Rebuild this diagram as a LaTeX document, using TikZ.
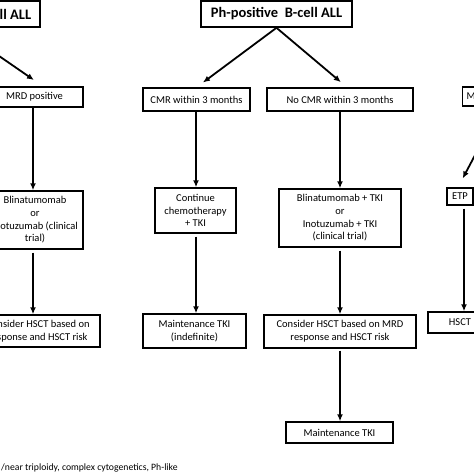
\documentclass[tikz,border=0pt]{standalone}
\usepackage{fontspec}
\setmainfont{Carlito}
\usetikzlibrary{arrows.meta,calc}
\begin{document}
\begin{tikzpicture}[x=1pt,y=-1pt,
 box/.style={draw, line width=1.4pt, rectangle, inner sep=2pt, align=center, font=\fontsize{10.5}{12.7}\selectfont},
 ttl/.style={draw, line width=1.6pt, rectangle, font=\bfseries\fontsize{14.5}{16}\selectfont, inner sep=2pt},
 arr/.style={line width=1.8pt, -{Latex[length=7pt,width=6pt]}},
]
\useasboundingbox (0,0) rectangle (474,474);
\clip (0,0) rectangle (474,474);

% titles
\node[ttl, anchor=east, inner xsep=9pt, minimum height=26pt] (negttl) at (41,14) {B-cell ALL};
\node[ttl, minimum width=151pt, minimum height=26pt] (ph) at (276.5,14) {Ph-positive\ \ B-cell ALL};

% left column
\node[box, minimum width=97pt, minimum height=20pt] (mrdpos) at (34.5,97) {MRD positive};
\node[box, minimum width=96pt, minimum height=58pt] (blinL) at (35,220) {Blinatumomab\\or\\Inotuzumab (clinical\\trial)};
\node[box, minimum width=124pt, minimum height=32pt] (hsctL) at (38,331) {Consider HSCT based on\\response and HSCT risk};

% middle columns
\node[box, minimum width=107pt, minimum height=23pt] (cmr) at (196.5,99.5) {CMR within 3 months};
\node[box, minimum width=146pt, minimum height=23pt] (nocmr) at (340,99.5) {No CMR within 3 months};
\node[box, minimum width=81pt, minimum height=45pt] (cont) at (195.5,210.5) {Continue\\chemotherapy\\+ TKI};
\node[box, minimum width=122pt, minimum height=58pt] (blinT) at (340,218) {Blinatumomab + TKI\\or\\Inotuzumab + TKI\\(clinical trial)};
\node[box, minimum width=103pt, minimum height=34pt] (maintind) at (194.5,331) {Maintenance TKI\\(indefinite)};
\node[box, minimum width=152pt, minimum height=33pt] (hsctM) at (340,331.5) {Consider HSCT based on MRD\\response and HSCT risk};
\node[box, minimum width=107pt, minimum height=21pt] (maint) at (339.5,432.5) {Maintenance TKI};

% right column
\node[box, anchor=west, text width=40pt, align=left, minimum height=19pt, inner xsep=4pt] (mbox) at (462,96.5) {M};
\node[box, minimum width=26pt, minimum height=17pt, inner xsep=1pt] (etp) at (460,196.5) {ETP};
\node[box, minimum width=64pt, minimum height=21pt] (hsct) at (460,322.5) {HSCT};

% footnote
\node[anchor=base west, inner sep=0pt, font=\fontsize{9.7}{11}\selectfont] (foot) at (1,470.5) {/near triploidy, complex cytogenetics, Ph-like};

% connectors
\coordinate (lstart) at (-43,27);
\coordinate (mstart) at (501,106);
\draw[arr, shorten >=11pt] (lstart) -- ($(mrdpos.north)+(8.5,0)$);
\draw[arr, shorten >=8pt] (ph.south) -- (cmr.north);
\draw[arr, shorten >=8pt] (ph.south) -- ($(nocmr.north)+(7,0)$);
\draw[arr, shorten >=10pt] (mstart) -- ([xshift=-2pt]etp.north);

\draw[arr] ([xshift=-1.5pt]mrdpos.south) -- ([xshift=-2pt]blinL.north);
\draw[arr, shorten <=3pt] ([xshift=-2pt]blinL.south) -- ([xshift=-5pt]hsctL.north);
\draw[arr] ([xshift=-0.5pt]cmr.south) -- ([xshift=0.5pt]cont.north);
\draw[arr, shorten <=3pt] ([xshift=0.5pt]cont.south) -- ([xshift=1.5pt]maintind.north);
\draw[arr] (nocmr.south) -- (blinT.north);
\draw[arr, shorten <=3pt] (blinT.south) -- (blinT.south |- hsctM.north);
\draw[arr, shorten <=2pt] (hsctM.south) -- (hsctM.south |- maint.north);
\draw[arr, shorten <=3pt] ([xshift=4pt]etp.south) -- ([xshift=4pt]hsct.north);
\end{tikzpicture}
\end{document}
